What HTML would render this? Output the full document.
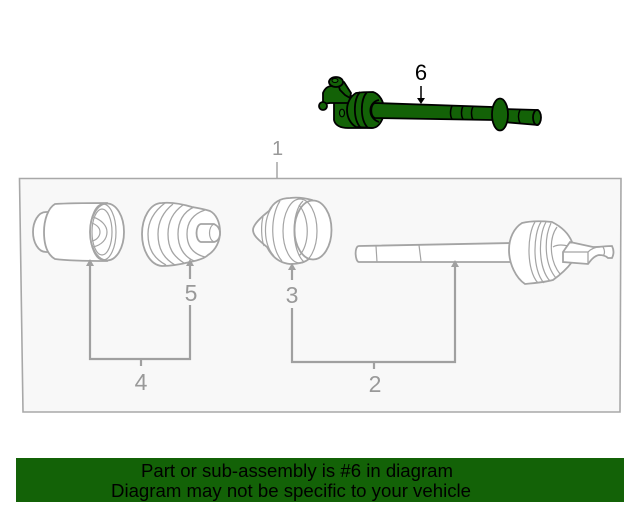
<!DOCTYPE html>
<html>
<head>
<meta charset="utf-8">
<style>
html,body{margin:0;padding:0;background:#fff;width:640px;height:512px;overflow:hidden}
svg{display:block;position:absolute;left:0;top:0}
text{font-family:"Liberation Sans",sans-serif}
</style>
</head>
<body>
<svg width="640" height="512" viewBox="0 0 640 512">
<!-- frame -->
<polygon points="19.5,178.500 621,178.500 620,412 23,412" fill="#f8f8f8" stroke="#a8a8a8" stroke-width="1.6"/>
<line x1="277" y1="162" x2="277" y2="178" stroke="#a0a0a0" stroke-width="1.4"/>
<text x="277.500" y="155" font-size="20" fill="#999" text-anchor="middle">1</text>

<!-- part 4 -->
<g fill="#fff" stroke="#a4a4a4" stroke-width="1.8">
<path d="M46,212 C38,212 33,222 33,232 C33,242 38,252 46,252 L60,252 L60,212Z"/>
<path d="M55,204 C48,208 44,220 44,232 C44,246 48,255 55,259 C70,261 90,261 107,261 L107,203 C90,203 70,203 55,204Z"/>
<ellipse cx="107" cy="232" rx="17" ry="28.500"/>
<ellipse cx="103" cy="232" rx="13" ry="28" fill="none" stroke-width="1.2"/>
<ellipse cx="102" cy="232" rx="10" ry="23" fill="none" stroke-width="1.2"/>
<path d="M93,217 C102,220 107,226 107,232 C107,239 102,245 93,247" fill="none" stroke-width="1.2"/>
<path d="M92,223 C97,225 100,228 100,232 C100,236 97,240 92,241" fill="none" stroke-width="1.2"/>
</g>

<!-- part 5 -->
<g fill="#fff" stroke="#a4a4a4" stroke-width="1.8">
<path d="M162,203 C150,203 142,218 142,234 C142,250 150,265 162,266 C172,266 182,264 190,262 C200,260 205,258 208,255 C216,250 220,241 220,232 C220,222 216,214 210,211 C204,209 198,208 192,207 C182,204 172,202 162,203Z"/>
<g fill="none" stroke-width="1.3">
<path d="M165,203 C153,212 148,222 148,234 C148,248 153,258 166,265"/>
<path d="M173,204 C163,212 158,222 158,234 C158,248 163,258 175,265"/>
<path d="M183,205 C173,212 168,222 168,234 C168,248 173,256 184,263"/>
<path d="M194,207 C183,212 178,222 178,234 C178,246 183,256 194,261"/>
<path d="M205,210 C193,214 187,222 187,234 C187,246 193,254 205,257"/>
</g>
<path d="M201,224 L214,224 C218,226 220,229 220,233 C220,238 218,241 214,242 L201,242 C195,241 195,225 201,224Z"/>
<path d="M214,224 C208,227 208,239 214,242" fill="none" stroke-width="1.2"/>
</g>

<!-- part 3 -->
<g fill="#fff" stroke="#a4a4a4" stroke-width="1.8">
<path d="M290,198 C280,198 273,203 269,211 C260,218 253,225 253,230 C253,236 260,241 267,247 C272,257 280,263 290,264 C300,264 306,262 310,258 L312,200 C305,198 298,197 290,198Z"/>
<ellipse cx="313" cy="230" rx="18.500" ry="29.500" fill="#fff"/>
<g fill="none" stroke-width="1.2">
<path d="M263,217 C261,224 261,238 264,246"/>
<path d="M272,207 C263,220 263,244 274,256"/>
<path d="M280,201 C270,216 270,248 282,261"/>
<ellipse cx="300" cy="231" rx="17" ry="32"/>
<ellipse cx="313" cy="230" rx="18.500" ry="29.500"/>
<path d="M303,201 C291,212 291,250 304,262"/>
<path d="M299,205 C310,218 310,245 299,256"/>
</g>
</g>

<!-- part 2 -->
<g fill="#fff" stroke="#a4a4a4" stroke-width="1.8">
<path d="M359,246 L512,243 L512,262 L359,262 C355,262 354,246 359,246Z"/>
<line x1="376" y1="246" x2="377" y2="262" stroke-width="1.2"/>
<line x1="419" y1="245" x2="421" y2="261" stroke-width="1.2"/>
<path d="M522,223 C514,228 509,238 509,250 C509,264 516,278 525,284 C536,283 546,282 553,280 C560,275 566,270 572,262 L572,242 C568,232 560,226 552,222 C542,221 530,221 522,223Z"/>
<g fill="none" stroke-width="1.2">
<path d="M535,222 C527,234 526,270 538,283"/>
<path d="M541,222 C533,234 532,270 544,283"/>
<path d="M546,222 C538,236 538,268 550,281"/>
<path d="M551,223 C544,238 544,264 556,278"/>
<path d="M557,227 C549,238 549,260 560,274"/>
<path d="M553,247 C558,244 564,245 568,246 C562,250 562,258 565,262"/>
</g>
<path d="M563,252 L570,242 L593,247 C600,247 606,246 612,246 C614,250 614,254 612,258 L608,258 C606,256 602,255 599,255 C594,256 591,260 588,264 L563,262Z"/>
<path d="M563,252 L588,252 L588,264" fill="none" stroke-width="1.3"/>
<path d="M588,252 C592,248 596,247 600,247 M603,247 C605,250 605,254 603,256" fill="none" stroke-width="1.2"/>
</g>

<!-- callouts grey -->
<g fill="none" stroke="#a0a0a0" stroke-width="2.200">
<polyline points="90,265 90,359 190,359 190,305"/>
<line x1="190" y1="265" x2="190" y2="279"/>
<polyline points="292,308 292,362 455,362 455,266"/>
<line x1="292" y1="268" x2="292" y2="280"/>
<line x1="141" y1="360" x2="141" y2="366"/>
<line x1="374" y1="363" x2="374" y2="369"/>
</g>
<g fill="#a0a0a0">
<polygon points="90,259 86,266 94,266"/>
<polygon points="190,259 186,266 194,266"/>
<polygon points="292,263 288,270 296,270"/>
<polygon points="455,260 451,267 459,267"/>
</g>
<g fill="#999" font-size="23" text-anchor="middle">
<text x="191" y="301">5</text>
<text x="292" y="303">3</text>
<text x="141" y="390">4</text>
<text x="375" y="392">2</text>
</g>

<!-- part 6 -->
<g fill="#136207" stroke="#000" stroke-width="1.800" stroke-linejoin="round">
<path d="M334,100 L334,120 C335,125 340,128 348,128 L372,128 L372,98 L350,96 L340,98Z"/>
<path d="M323,104 L323,93 C325,88 328,86 332,86 L340,86 L346,92 L351,96 L349,103 L330,103Z"/>
<circle cx="323" cy="106" r="4"/>
<path d="M338,84 L344,82 L351,93 L350,98 L345,95 L340,90Z"/>
<ellipse cx="336" cy="82" rx="7" ry="5"/>
<ellipse cx="335" cy="80.500" rx="3" ry="2" fill="#1f7a10" stroke-width="1"/>
<ellipse cx="342" cy="113" rx="2.500" ry="3.800" fill="#1a7010" stroke-width="1.200"/>
<path d="M356,93 C362,92 368,92 373,92 C380,94 384,102 384,110 C384,118 380,127 373,128 L356,127 C351,124 347,118 347,110 C347,102 351,96 356,93Z"/>
<path d="M360,92 C353,100 353,120 361,128" fill="none"/>
<path d="M367,92 C360,100 360,120 368,128" fill="none"/>
<path d="M379,100 C368,102 367,118 379,122" fill="none"/>
<path d="M375,103 L493,107 L493,120 L375,118 C370,117 370,104 375,103Z"/>
<path d="M452,106 C450,110 450,116 452,119 M463,106 C461,110 461,116 463,119 M473,107 C471,110 471,116 473,120" fill="none" stroke-width="1.500"/>
<path d="M503,109 L538,110 L538,125 L503,122Z"/>
<path d="M520,110 C518,114 518,119 520,123" fill="none" stroke-width="1.500"/>
<ellipse cx="537" cy="117.500" rx="4" ry="7.500"/>
<ellipse cx="500" cy="114.500" rx="8" ry="16"/>
</g>
<line x1="421" y1="86" x2="421" y2="100" stroke="#000" stroke-width="1.5"/>
<polygon points="421,104 417,98 425,98" fill="#000"/>
<text x="421" y="80" font-size="22" fill="#000" text-anchor="middle">6</text>

<!-- banner -->
<rect x="16" y="458" width="608" height="44" fill="#136207"/>
<text x="141" y="477" font-size="18.500" textLength="312" lengthAdjust="spacingAndGlyphs" fill="#000">Part or sub-assembly is #6 in diagram</text>
<text x="111" y="497" font-size="18.500" textLength="360" lengthAdjust="spacingAndGlyphs" fill="#000">Diagram may not be specific to your vehicle</text>
</svg>
</body>
</html>
